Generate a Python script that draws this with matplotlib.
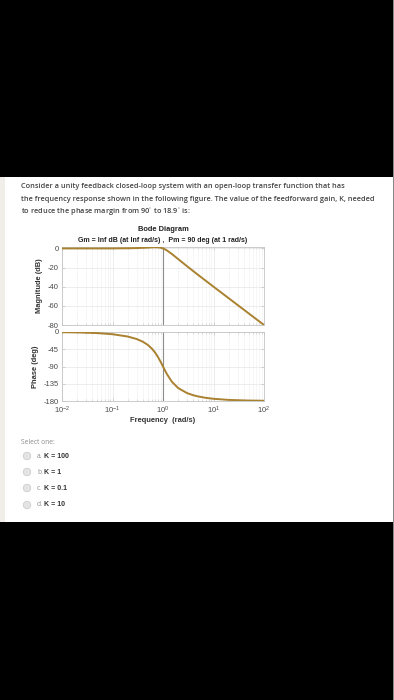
import matplotlib
matplotlib.use("Agg")
import matplotlib.pyplot as plt
from matplotlib.patches import Rectangle, Ellipse
from matplotlib.ticker import LogLocator, NullFormatter, FixedLocator

plt.rcParams['font.family'] = ['Liberation Sans', 'DejaVu Sans']
plt.rcParams['mathtext.fontset'] = 'custom'
plt.rcParams['mathtext.rm'] = 'Liberation Sans'
plt.rcParams['mathtext.it'] = 'Liberation Sans:italic'
plt.rcParams['mathtext.bf'] = 'Liberation Sans:bold'
plt.rcParams['axes.unicode_minus'] = False

# ---- data ----
freq = [0.01, 0.02, 0.05, 0.1, 0.2, 0.3, 0.4, 0.5, 0.6, 0.7, 0.8, 0.9, 0.95,
        1.0, 1.1, 1.2, 1.5, 2, 3, 4, 5, 7, 10, 20, 50, 100]
mag_db = [0.0, 0.0, 0.01, 0.04, 0.17, 0.37, 0.63, 0.90, 1.14, 1.25, 1.14, 0.73, 0.40,
          0.0, -0.98, -2.13, -5.81, -11.14, -18.63, -23.82, -27.79, -33.72, -39.96,
          -52.03, -67.96, -80.0]
phase_deg = [-0.57, -1.15, -2.87, -5.77, -11.77, -18.25, -25.46, -33.69, -43.15,
             -53.92, -65.77, -78.08, -84.14, -90.0, -100.81, -110.14, -129.81,
             -146.31, -159.44, -165.07, -168.23, -171.70, -174.23, -177.13,
             -178.85, -179.43]
crossover_freq = [1.0]
mag_ticks = [0, -20, -40, -60, -80]
phase_ticks = [0, -45, -90, -135, -180]
x_ticks = [0.01, 0.1, 1, 10, 100]
x_ticklabels = [r'$10^{-2}$', r'$10^{-1}$', r'$10^{0}$', r'$10^{1}$', r'$10^{2}$']

question_lines = [
    "Consider a unity feedback closed-loop system with an open-loop transfer function that has",
    "the frequency response shown in the following figure. The value of the feedforward gain, K, needed",
    "to reduce the phase margin from 90$^{\\degree}$ to 18.9$^{\\degree}$ is:",
]
options_letter = ["a.", "b.", "c.", "d."]
options_value = ["K = 100", "K = 1", "K = 0.1", "K = 10"]

W, H = 394, 700
fig = plt.figure(figsize=(W / 100, H / 100), dpi=100, facecolor='white')

def fx(x):
    return x / W

def fy(y):
    return 1 - y / H

# black surroundings
fig.patches.append(Rectangle((0, fy(177)), 1, 177 / H, transform=fig.transFigure,
                             facecolor='black', edgecolor='none', zorder=-5))
fig.patches.append(Rectangle((0, 0), 1, (700 - 522) / H, transform=fig.transFigure,
                             facecolor='black', edgecolor='none', zorder=-5))
fig.patches.append(Rectangle((fx(393), 0), fx(1), 1, transform=fig.transFigure,
                             facecolor='#8a8a8a', edgecolor='none', zorder=-5))
fig.patches.append(Rectangle((0, fy(522)), fx(5), (522 - 177) / H,
                             transform=fig.transFigure, facecolor='#f1ede8',
                             edgecolor='none', zorder=-5))

txt_color = '#454545'
for i, line in enumerate(question_lines):
    fig.text(fx(21), fy(187 + 12.3 * i), line, fontsize=5.3, family='Open Sans',
             fontweight='semibold', color=txt_color, va='center', ha='left')

line_color = '#a9812f'
grid_color = '#e6e6e6'
spine_color = '#c4c4c4'
tick_color = '#4a4a4a'

def style(ax):
    ax.set_facecolor('white')
    ax.set_xscale('log')
    ax.set_xlim(0.01, 100)
    for s in ax.spines.values():
        s.set_color(spine_color)
        s.set_linewidth(0.6)
    ax.xaxis.set_minor_locator(LogLocator(base=10, subs=range(2, 10)))
    ax.xaxis.set_minor_formatter(NullFormatter())
    ax.grid(True, which='major', color=grid_color, lw=0.5)
    ax.grid(True, which='minor', axis='x', color='#f0f0f0', lw=0.4)
    ax.tick_params(direction='in', length=2, width=0.5, color=spine_color,
                   labelsize=5.5, labelcolor=tick_color, pad=2.5,
                   top=True, right=True)
    ax.tick_params(which='minor', direction='in', length=1.2, width=0.4,
                   color=spine_color, top=True)
    ax.set_axisbelow(True)

ax1 = fig.add_axes([fx(62), fy(325), (264 - 62) / W, (325 - 247) / H])
ax2 = fig.add_axes([fx(62), fy(401), (264 - 62) / W, (401 - 332) / H])

for ax in (ax1, ax2):
    style(ax)

ax1.plot(freq, mag_db, color=line_color, lw=1.4, zorder=3)
ax1.set_ylim(-80, 1.5)
ax1.yaxis.set_major_locator(FixedLocator(mag_ticks))
ax1.set_xticks(x_ticks)
ax1.set_xticklabels([])
ax1.set_ylabel('Magnitude (dB)', fontsize=5.4, fontweight='bold', color='#333333',
               labelpad=3)
for f in crossover_freq:
    ax1.axvline(f, color='#8c8c8c', lw=0.8, zorder=2)

ax2.plot(freq, phase_deg, color=line_color, lw=1.4, zorder=3)
ax2.set_ylim(-180, 0)
ax2.yaxis.set_major_locator(FixedLocator(phase_ticks))
ax2.set_xticks(x_ticks)
ax2.set_xticklabels(x_ticklabels)
ax2.set_ylabel('Phase (deg)', fontsize=5.4, fontweight='bold', color='#333333',
               labelpad=3)
ax2.set_xlabel('Frequency  (rad/s)', fontsize=5.4, fontweight='bold', color='#333333',
               labelpad=1)
for f in crossover_freq:
    ax2.axvline(f, color='#8c8c8c', lw=0.8, zorder=2)

fig.text(fx(163), fy(230), 'Bode Diagram', fontsize=5.4, fontweight='bold',
         color='#222222', ha='center', va='center')
fig.text(fx(163), fy(240), 'Gm = Inf dB (at Inf rad/s) ,  Pm = 90 deg (at 1 rad/s)',
         fontsize=5.0, fontweight='bold', color='#222222', ha='center', va='center')

fig.text(fx(21), fy(442), 'Select one:', fontsize=4.8, family='Open Sans',
         color='#8a8a8a', ha='left', va='center')

opt_y = [456, 472, 488, 505]
for letter, val, y in zip(options_letter, options_value, opt_y):
    fig.patches.append(Ellipse((fx(27), fy(y)), 7.5 / W, 7.5 / H,
                               transform=fig.transFigure, facecolor='#e4e4e4',
                               edgecolor='#c6c6c6', lw=0.5))
    fig.text(fx(37), fy(y), letter, fontsize=4.8, family='Open Sans',
             color='#8a8a8a', ha='left', va='center')
    fig.text(fx(44.5), fy(y), val, fontsize=5.0, fontweight='bold',
             color='#333333', ha='left', va='center')

fig.savefig('out.png', dpi=100, facecolor='white')
